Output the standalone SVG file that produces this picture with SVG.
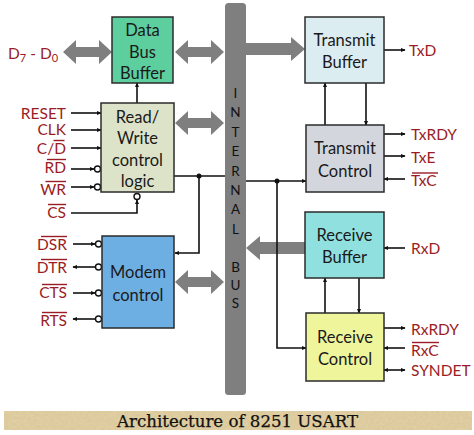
<svg xmlns="http://www.w3.org/2000/svg" width="474" height="435" viewBox="0 0 474 435">
<style>
.box{stroke:#2b2b2b;stroke-width:1.5}
.bt{font-family:Lato,"Open Sans","Liberation Sans",sans-serif;font-size:16.5px;fill:#1a1a1a;text-anchor:middle}
.lb{font-family:Lato,"Open Sans","Liberation Sans",sans-serif;font-size:15.5px;fill:#9b1c24}
.lr{text-anchor:end}
.bus{font-family:Lato,"Open Sans","Liberation Sans",sans-serif;font-size:13.5px;fill:#111;text-anchor:middle}
.ln{stroke:#111;stroke-width:1.6;fill:none}
.ga{fill:#7f7f7f}
.bub{fill:#fff;stroke:#111;stroke-width:1.4}
.ov{stroke:#9b1c24;stroke-width:1.4}
</style>
<defs>
<marker id="ah" viewBox="0 0 8 8" refX="7" refY="4" markerWidth="5" markerHeight="5" orient="auto-start-reverse" markerUnits="userSpaceOnUse">
<path d="M0,0.5 L8,4 L0,7.5 z" fill="#111"/>
</marker>
<filter id="paper" x="0" y="0" width="100%" height="100%">
<feTurbulence type="fractalNoise" baseFrequency="0.35" numOctaves="2" seed="3" result="n"/>
<feColorMatrix in="n" type="matrix" values="0 0 0 0 0.55  0 0 0 0 0.45  0 0 0 0 0.25  0 0 0 0.4 0" result="c"/>
<feComposite in="c" in2="SourceGraphic" operator="atop"/>
</filter>
</defs>
<rect width="474" height="435" fill="#fff"/>

<!-- banner -->
<g id="banner">
<rect x="4" y="411" width="468" height="19" fill="#e4d2a5" filter="url(#paper)"/>
<text x="237.5" y="427" text-anchor="middle" font-family="'DejaVu Serif Condensed','DejaVu Serif','Liberation Serif',serif" font-size="17.5" fill="#111" stroke="#111" stroke-width="0.25" textLength="241" lengthAdjust="spacingAndGlyphs">Architecture of 8251 USART</text>
</g>

<!-- internal bus -->
<g id="internal-bus">
<rect x="225" y="3" width="21" height="392" rx="3.5" fill="#7f7f7f"/>
<text class="bus" x="235.5" y="98">I</text>
<text class="bus" x="235.5" y="117">N</text>
<text class="bus" x="235.5" y="137">T</text>
<text class="bus" x="235.5" y="156">E</text>
<text class="bus" x="235.5" y="176">R</text>
<text class="bus" x="235.5" y="195">N</text>
<text class="bus" x="235.5" y="214">A</text>
<text class="bus" x="235.5" y="234">L</text>
<text class="bus" x="235.5" y="272">B</text>
<text class="bus" x="235.5" y="290">U</text>
<text class="bus" x="235.5" y="308">S</text>
</g>

<!-- connectors -->
<g id="connectors">
<!-- gray bus arrows -->
<polygon class="ga" points="63,52 76,40 76,47 99,47 99,40 112,52 99,64 99,57 76,57 76,64"/>
<polygon class="ga" points="175,52 188,40 188,47 211,47 211,40 224,52 211,64 211,57 188,57 188,64"/>
<polygon class="ga" points="175,123 188,111 188,118 211,118 211,111 224,123 211,135 211,128 188,128 188,135"/>
<polygon class="ga" points="175,282 188,270 188,277 211,277 211,270 224,282 211,294 211,287 188,287 188,294"/>
<polygon class="ga" points="246,43 291,43 291,37 305,49 291,61 291,55 246,55"/>
<polygon class="ga" points="305,242 260,242 260,236 246,248 260,260 260,254 305,254"/>

<!-- Read/Write inputs -->
<line class="ln" x1="71" y1="113" x2="101" y2="113" marker-end="url(#ah)"/>
<line class="ln" x1="71" y1="130" x2="101" y2="130" marker-end="url(#ah)"/>
<line class="ln" x1="71" y1="148" x2="101" y2="148" marker-end="url(#ah)"/>
<line class="ln" x1="71" y1="169" x2="94" y2="169" marker-end="url(#ah)"/>
<circle class="bub" cx="97.5" cy="169" r="3"/>
<line class="ln" x1="71" y1="187" x2="94" y2="187" marker-end="url(#ah)"/>
<circle class="bub" cx="97.5" cy="187" r="3"/>
<polyline class="ln" points="71,213 137,213 137,200" marker-end="url(#ah)"/>
<circle class="bub" cx="137" cy="196.5" r="3"/>
<!-- RW to DBB -->
<line class="ln" x1="137" y1="103" x2="137" y2="83" marker-end="url(#ah)"/>
<!-- RW to bus and modem -->
<line class="ln" x1="174" y1="176" x2="225" y2="176"/>
<circle cx="199" cy="176" r="2.5" fill="#111"/>
<polyline class="ln" points="199,176 199,253 175,253" marker-end="url(#ah)"/>
<!-- bus to transmit/receive control -->
<line class="ln" x1="246" y1="181" x2="306" y2="181" marker-end="url(#ah)"/>
<circle cx="277" cy="181" r="2.5" fill="#111"/>
<polyline class="ln" points="277,181 277,348 306,348" marker-end="url(#ah)"/>

<!-- modem signals -->
<line class="ln" x1="73" y1="244" x2="95" y2="244" marker-end="url(#ah)"/>
<circle class="bub" cx="98.5" cy="244" r="3"/>
<line class="ln" x1="95" y1="267" x2="73" y2="267" marker-end="url(#ah)"/>
<circle class="bub" cx="98.5" cy="267" r="3"/>
<line class="ln" x1="73" y1="293" x2="95" y2="293" marker-end="url(#ah)"/>
<circle class="bub" cx="98.5" cy="293" r="3"/>
<line class="ln" x1="95" y1="319" x2="73" y2="319" marker-end="url(#ah)"/>
<circle class="bub" cx="98.5" cy="319" r="3"/>

<!-- transmit -->
<line class="ln" x1="384" y1="50" x2="405" y2="50" marker-end="url(#ah)"/>
<line class="ln" x1="325" y1="125" x2="325" y2="83" marker-end="url(#ah)"/>
<line class="ln" x1="366" y1="83" x2="366" y2="125" marker-end="url(#ah)"/>
<line class="ln" x1="384" y1="134" x2="405" y2="134" marker-end="url(#ah)"/>
<line class="ln" x1="384" y1="156" x2="405" y2="156" marker-end="url(#ah)"/>
<line class="ln" x1="405" y1="179" x2="384" y2="179" marker-end="url(#ah)"/>

<!-- receive -->
<line class="ln" x1="405" y1="248" x2="384" y2="248" marker-end="url(#ah)"/>
<line class="ln" x1="325" y1="313" x2="325" y2="278" marker-end="url(#ah)"/>
<line class="ln" x1="359" y1="278" x2="359" y2="313" marker-end="url(#ah)"/>
<line class="ln" x1="384" y1="328" x2="405" y2="328" marker-end="url(#ah)"/>
<line class="ln" x1="405" y1="348" x2="384" y2="348" marker-end="url(#ah)"/>
<line class="ln" x1="384" y1="370" x2="405" y2="370" marker-start="url(#ah)" marker-end="url(#ah)"/>
</g>

<!-- nodes -->
<g id="data-bus-buffer">
<rect class="box" x="112" y="17" width="61" height="66" fill="#5dcf9f"/>
<text class="bt" x="142.5" y="36">Data</text>
<text class="bt" x="142.5" y="58">Bus</text>
<text class="bt" x="142.5" y="79">Buffer</text>
</g>

<g id="read-write-control">
<rect class="box" x="101" y="103" width="73" height="89" fill="#dde3c9"/>
<text class="bt" x="137.5" y="123">Read/</text>
<text class="bt" x="137.5" y="144">Write</text>
<text class="bt" x="137.5" y="166">control</text>
<text class="bt" x="137.5" y="187">logic</text>
</g>

<g id="modem-control">
<rect class="box" x="102" y="236" width="72" height="92" fill="#6dafe2"/>
<text class="bt" x="138" y="278">Modem</text>
<text class="bt" x="138" y="301">control</text>
</g>

<g id="transmit-buffer">
<rect class="box" x="305" y="17" width="79" height="66" fill="#dcedf2"/>
<text class="bt" x="344.5" y="46">Transmit</text>
<text class="bt" x="344.5" y="68">Buffer</text>
</g>

<g id="transmit-control">
<rect class="box" x="306" y="125" width="78" height="67" fill="#d3d6dc"/>
<text class="bt" x="345" y="154">Transmit</text>
<text class="bt" x="345" y="177">Control</text>
</g>

<g id="receive-buffer">
<rect class="box" x="305" y="212" width="79" height="66" fill="#8fe0df"/>
<text class="bt" x="344.5" y="241">Receive</text>
<text class="bt" x="344.5" y="263">Buffer</text>
</g>

<g id="receive-control">
<rect class="box" x="306" y="313" width="78" height="68" fill="#eef59b"/>
<text class="bt" x="345" y="343">Receive</text>
<text class="bt" x="345" y="365">Control</text>
</g>

<!-- labels -->
<g id="labels">
<text class="lb" x="8" y="58.5" font-size="17">D<tspan font-size="11" dy="3">7</tspan><tspan dy="-3"> - D</tspan><tspan font-size="11" dy="3">0</tspan></text>
<text class="lb lr" x="66" y="118.5">RESET</text>
<text class="lb lr" x="66" y="135">CLK</text>
<text class="lb lr" x="66" y="153.5">C/D</text>
<line class="ov" x1="53.5" y1="140.5" x2="64.5" y2="140.5"/>
<text class="lb lr" x="66" y="172.5">RD</text>
<line class="ov" x1="47" y1="159.5" x2="66" y2="159.5"/>
<text class="lb lr" x="66" y="194.5">WR</text>
<line class="ov" x1="45.5" y1="181.5" x2="66" y2="181.5"/>
<text class="lb lr" x="66" y="217.5">CS</text>
<line class="ov" x1="48" y1="204.5" x2="66" y2="204.5"/>
<text class="lb lr" x="67" y="249.5">DSR</text>
<line class="ov" x1="41" y1="236.5" x2="67" y2="236.5"/>
<text class="lb lr" x="67" y="272.5">DTR</text>
<line class="ov" x1="41" y1="259.5" x2="67" y2="259.5"/>
<text class="lb lr" x="67" y="297.5">CTS</text>
<line class="ov" x1="42" y1="284.5" x2="67" y2="284.5"/>
<text class="lb lr" x="67" y="325.5">RTS</text>
<line class="ov" x1="42" y1="312.5" x2="67" y2="312.5"/>
<text class="lb" x="409" y="56">TxD</text>
<text class="lb" x="411" y="140">TxRDY</text>
<text class="lb" x="411" y="162.5">TxE</text>
<text class="lb" x="411" y="186">TxC</text>
<line class="ov" x1="412" y1="173" x2="438" y2="173"/>
<text class="lb" x="411" y="253.5">RxD</text>
<text class="lb" x="411" y="334.5">RxRDY</text>
<text class="lb" x="411" y="355.5">RxC</text>
<line class="ov" x1="412" y1="342.5" x2="439" y2="342.5"/>
<text class="lb" x="411" y="375.5">SYNDET</text>
</g>
</svg>
